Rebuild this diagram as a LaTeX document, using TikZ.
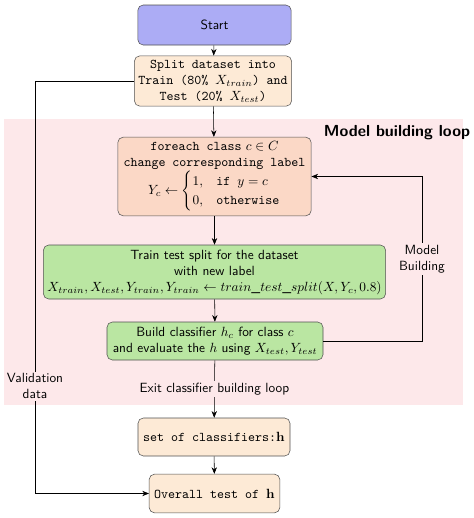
\documentclass[tikz,border=0pt]{standalone}
\usepackage{amsmath}
\usetikzlibrary{arrows.meta}

\definecolor{startblue}{RGB}{172,172,245}
\definecolor{peach}{RGB}{253,234,214}
\definecolor{salmon}{RGB}{251,216,198}
\definecolor{lightgreen}{RGB}{186,230,162}
\definecolor{loopbg}{RGB}{253,232,234}
\definecolor{edgegray}{RGB}{80,80,80}

\begin{document}
\begin{tikzpicture}[x=0.75pt,y=-0.75pt,
    box/.style={draw=edgegray, rounded corners=4pt, align=center, inner sep=3pt},
    flow/.style={draw=edgegray, -{Stealth[length=5pt,width=4pt]}, black},
    edgelabel/.style={fill=loopbg, font=\sffamily, align=center, inner sep=1.5pt}]
  \useasboundingbox (0,0) rectangle (474,518);

  % loop region
  \fill[loopbg] (4,119) rectangle (463,405);
  \node[font=\sffamily\bfseries\large] (title) at (397,133) {Model building loop};

  \begin{scope}[every node/.style={box}]
    \node[fill=startblue, minimum width=115pt, minimum height=30pt, font=\sffamily] (start) at (214.5,25) {Start};
    \node[fill=peach, minimum width=115.5pt, minimum height=37.5pt, font=\ttfamily] (split) at (213,81)
      {Split dataset into\\Train (80\% $X_{train}$) and\\Test (20\% $X_{test}$)};
    \node[fill=salmon, minimum width=145pt, minimum height=59pt] (foreach) at (214.5,176.5)
      {\texttt{foreach class} $c \in C$\\\texttt{change corresponding label}\\
       $Y_c \leftarrow \begin{cases} 1, & \texttt{if } y = c\\ 0, & \texttt{otherwise} \end{cases}$};
    \node[fill=lightgreen, minimum width=252pt, minimum height=40.5pt, font=\sffamily] (train) at (214.5,272)
      {Train test split for the dataset\\with new label\\
       $X_{train}, X_{test}, Y_{train}, Y_{train} \leftarrow train\_test\_split(X, Y_c, 0.8)$};
    \node[fill=lightgreen, minimum width=162pt, minimum height=28.5pt, font=\sffamily] (build) at (215,341)
      {Build classifier $h_c$ for class $c$\\and evaluate the $h$ using $X_{test}, Y_{test}$};
    \node[fill=peach, minimum width=114pt, minimum height=28.5pt, font=\ttfamily] (set) at (214,437)
      {set of classifiers:$\mathbf{h}$};
    \node[fill=peach, minimum width=98pt, minimum height=29pt, font=\ttfamily] (overall) at (214.5,493.5)
      {Overall test of $\mathbf{h}$};
  \end{scope}

  \coordinate (mb) at (422,0);
  \coordinate (val) at (35,0);

  \begin{scope}[every path/.style={flow}]
    \draw (start) -- (split);
    \draw (split) -- (foreach);
    \draw (foreach) -- (train);
    \draw (train) -- (build);
    \draw (build) -- node[edgelabel] {Exit classifier building loop} (set);
    \draw (set) -- (overall);
    \draw (build.east) -- (build.east -| mb)
      -- node[edgelabel] {Model\\Building} (foreach.east -| mb) -- (foreach.east);
    \draw (split.west) -- (split.west -| val)
      -- node[edgelabel, pos=0.74] {Validation\\data} (overall.west -| val) -- (overall.west);
  \end{scope}
\end{tikzpicture}
\end{document}
